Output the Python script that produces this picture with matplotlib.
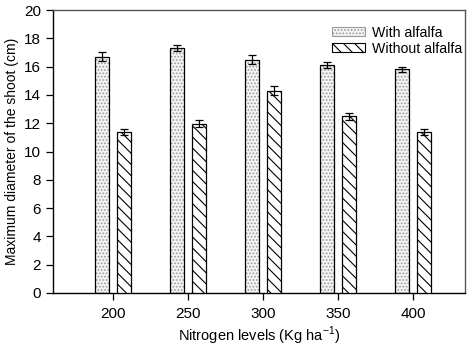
import numpy as np
import matplotlib
matplotlib.use("Agg")
import matplotlib.pyplot as plt
from matplotlib.patches import Patch

plt.rcParams['font.family'] = ['Liberation Sans', 'DejaVu Sans']
plt.rcParams['mathtext.fontset'] = 'custom'
plt.rcParams['mathtext.rm'] = 'Liberation Sans'
plt.rcParams['hatch.linewidth'] = 0.8

nitrogen = [200, 250, 300, 350, 400]
with_alfalfa = [16.7, 17.3, 16.5, 16.1, 15.8]
with_err = [0.3, 0.2, 0.3, 0.2, 0.15]
without_alfalfa = [11.4, 11.95, 14.3, 12.5, 11.4]
without_err = [0.2, 0.25, 0.3, 0.25, 0.2]

x = np.array(nitrogen)
offset = 7.3
width = 9.3

fig = plt.figure(figsize=(4.74, 3.49), dpi=100)
ax = fig.add_axes([53 / 474, 1 - 293 / 349, 412 / 474, 283 / 349])

# dotted fill drawn in grey, outline on top in black
ax.bar(x - offset, with_alfalfa, width, color='#f4f4f4', edgecolor='#9a9a9a',
       hatch='.....', linewidth=0, zorder=2)
ax.bar(x - offset, with_alfalfa, width, fill=False, edgecolor='black',
       linewidth=0.9, zorder=3)
ax.bar(x + offset, without_alfalfa, width, color='white', edgecolor='black',
       hatch='\\\\\\', linewidth=0.9, zorder=3)

ax.errorbar(x - offset, with_alfalfa, yerr=with_err, fmt='none', ecolor='black',
            elinewidth=0.9, capsize=3, capthick=0.9, zorder=4)
ax.errorbar(x + offset, without_alfalfa, yerr=without_err, fmt='none', ecolor='black',
            elinewidth=0.9, capsize=3, capthick=0.9, zorder=4)

ax.set_xlim(160, 434.7)
ax.set_ylim(0, 20)
ax.set_xticks(nitrogen)
ax.set_yticks(range(0, 21, 2))
ax.tick_params(direction='out', length=5, width=0.9, labelsize=11)
ax.tick_params(axis='x', pad=5)
for s in ax.spines.values():
    s.set_linewidth(1.0)
ax.spines['top'].set_color('#555555')
ax.spines['right'].set_color('#555555')

ax.set_xlabel('Nitrogen levels (Kg ha$^{-1}$)', fontsize=10.5, labelpad=3)
ax.set_ylabel('Maximum diameter of the shoot (cm)', fontsize=10, labelpad=4)

handles = [
    Patch(facecolor='#f4f4f4', edgecolor='#9a9a9a', hatch='.....', linewidth=0.8),
    Patch(facecolor='white', edgecolor='black', hatch='\\\\\\', linewidth=0.8),
]
ax.legend(handles, ['With alfalfa', 'Without alfalfa'], loc='upper right',
          bbox_to_anchor=(1.0, 0.955), frameon=False, fontsize=10.2,
          handlelength=2.3, handleheight=0.55, handletextpad=0.5,
          labelspacing=0.15, borderaxespad=0, borderpad=0.2)

fig.savefig('out.png', dpi=100)
